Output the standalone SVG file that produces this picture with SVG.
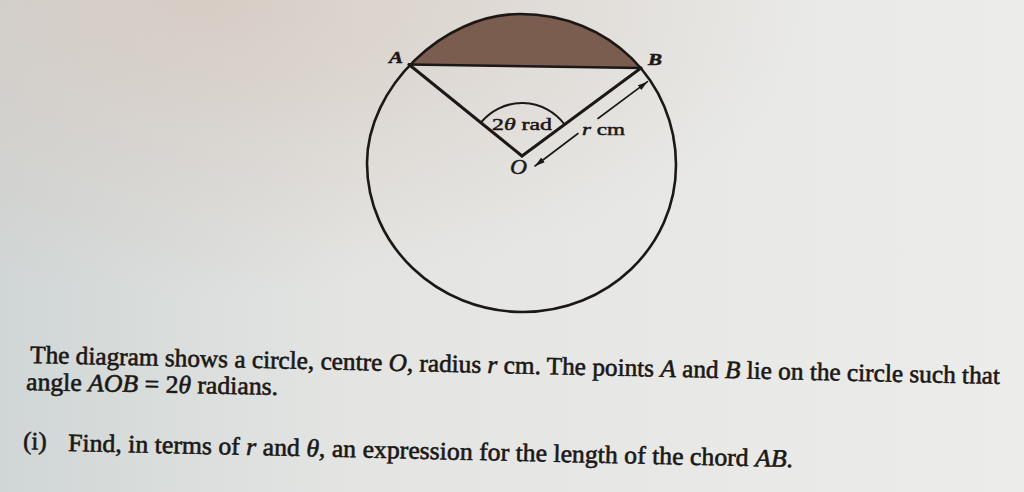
<svg xmlns="http://www.w3.org/2000/svg" width="1024" height="492" viewBox="0 0 1024 492">
  <defs>
    <linearGradient id="bg" x1="0" y1="0" x2="1" y2="0">
      <stop offset="0" stop-color="#d0d6d6"/>
      <stop offset="0.35" stop-color="#e4e5e3"/>
      <stop offset="1" stop-color="#ececea"/>
    </linearGradient>
    <radialGradient id="warm" cx="0.2" cy="0" r="0.6">
      <stop offset="0" stop-color="#d6c8bf" stop-opacity="0.8"/>
      <stop offset="1" stop-color="#d6c8bf" stop-opacity="0"/>
    </radialGradient>
    <clipPath id="aboveChord">
      <polygon points="300,0 760,0 760,69.7 300,62.8"/>
    </clipPath>
    <marker id="arr" viewBox="0 0 10 6" refX="10" refY="3" markerWidth="10" markerHeight="6" markerUnits="userSpaceOnUse" orient="auto-start-reverse">
      <path d="M0,0 L10,3 L0,6 Z" fill="#1c1816"/>
    </marker>
    <style>
      .ln { fill: none; stroke: #1c1816; stroke-linecap: round; stroke-linejoin: round; }
      .body { font-family: "Liberation Serif", "Times New Roman", serif; font-size: 25px; fill: #1c1816; stroke: #1c1816; stroke-width: 0.6px; }
      .lab { font-family: "Liberation Serif", "Times New Roman", serif; fill: #1c1816; stroke: #1c1816; stroke-width: 0.5px; }
      .it { font-style: italic; }
    </style>
  </defs>

  <rect width="1024" height="492" fill="url(#bg)"/>
  <rect width="1024" height="492" fill="url(#warm)"/>

  <g id="segment">
    <path clip-path="url(#aboveChord)" fill="#7b5d4f" d="M520,14 C610,14 676,82 676,165 C676,247 607,312 523,312 C437,312 367,245 367,163 C367,88 443,14 520,14 Z"/>
  </g>

  <g id="circle">
    <path class="ln" stroke-width="2.6" d="M520,14 C610,14 676,82 676,165 C676,247 607,312 523,312 C437,312 367,245 367,163 C367,88 443,14 520,14 Z"/>
  </g>

  <g id="connectors">
    <line class="ln" stroke-width="2.6" x1="409" y1="64.5" x2="641" y2="68"/>
    <line class="ln" stroke-width="3" x1="409" y1="64.5" x2="522" y2="156"/>
    <line class="ln" stroke-width="3" x1="641" y1="68" x2="522" y2="156"/>
    <path class="ln" stroke-width="2" d="M480.8,122.7 A53,53 0 0 1 564.6,124.5"/>
    <line class="ln" stroke-width="1.6" x1="598" y1="118.5" x2="647.5" y2="81.7" marker-end="url(#arr)"/>
    <line class="ln" stroke-width="1.6" x1="578" y1="133.5" x2="535" y2="166" marker-end="url(#arr)"/>
  </g>

  <g id="labels">
    <text class="lab it" x="389" y="63" font-size="16" font-weight="bold" textLength="14" lengthAdjust="spacingAndGlyphs">A</text>
    <text class="lab it" x="648" y="65" font-size="16" font-weight="bold" textLength="14" lengthAdjust="spacingAndGlyphs">B</text>
    <text class="lab it" x="510" y="174" font-size="22" textLength="17" lengthAdjust="spacingAndGlyphs">O</text>
    <text class="lab" x="492" y="130" font-size="17" textLength="60" lengthAdjust="spacingAndGlyphs">2<tspan class="it">θ</tspan> rad</text>
    <text class="lab" x="582" y="135" font-size="17" textLength="43" lengthAdjust="spacingAndGlyphs"><tspan class="it">r</tspan> cm</text>
  </g>

  <g id="question">
    <text class="body" x="30" y="363" transform="rotate(1.24 30 363)" textLength="970" lengthAdjust="spacingAndGlyphs">The diagram shows a circle, centre <tspan class="it">O</tspan>, radius <tspan class="it">r</tspan> cm. The points <tspan class="it">A</tspan> and <tspan class="it">B</tspan> lie on the circle such that</text>
    <text class="body" x="26" y="390" transform="rotate(1.1 26 390)" textLength="252" lengthAdjust="spacingAndGlyphs">angle <tspan class="it">AOB</tspan> = 2<tspan class="it">θ</tspan> radians.</text>
    <text class="body" x="23" y="449" transform="rotate(1.2 23 449)">(i)</text>
    <text class="body" x="68" y="451" transform="rotate(1.27 68 451)" textLength="725" lengthAdjust="spacingAndGlyphs">Find, in terms of <tspan class="it">r</tspan> and <tspan class="it">θ</tspan>, an expression for the length of the chord <tspan class="it">AB</tspan>.</text>
  </g>
</svg>
